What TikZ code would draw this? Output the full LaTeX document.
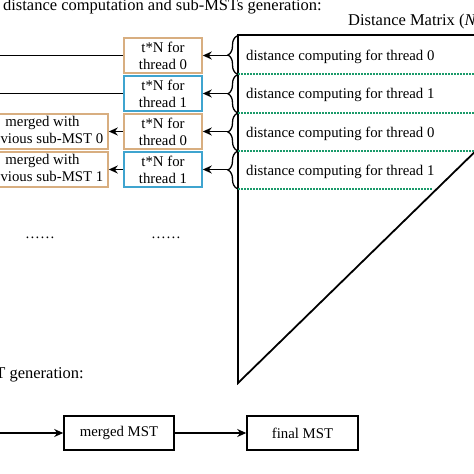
\documentclass[tikz,border=0pt]{standalone}
\usepackage{fontspec}
\setmainfont{Liberation Serif}
\usetikzlibrary{arrows.meta,decorations.pathreplacing}
\definecolor{boxor}{HTML}{D8AE80}
\definecolor{boxbl}{HTML}{3FA4CF}
\definecolor{gdot}{HTML}{1A9A6A}
\tikzset{
  body/.style={font=\fontsize{14.8}{17}\selectfont},
  head/.style={font=\fontsize{16.5}{19}\selectfont, inner sep=0pt},
  tbox/.style={draw, line width=1.6pt, minimum width=78pt, minimum height=35pt, inner sep=0pt, align=center, body},
  mbox/.style={tbox, draw=boxor, minimum width=131pt},
  mstbox/.style={tbox, draw=black, minimum width=110pt, minimum height=34pt},
  arr/.style={-{Stealth[length=9pt,width=8pt]}, line width=1.7pt},
  plain/.style={line width=1.7pt},
  gline/.style={draw=gdot, line width=1.5pt, dash pattern=on 1.6pt off 1.4pt},
  bracestyle/.style={decorate, decoration={brace, amplitude=9pt}, line width=1.3pt},
  rowtext/.style={body, anchor=base west, inner sep=0pt}
}
\begin{document}
\begin{tikzpicture}[x=1pt,y=-1pt]
\useasboundingbox (0,0) rectangle (474,474);
\clip (0,0) rectangle (474,474);

% headers
\node[head, anchor=base east] (h1) at (322,10) {distance computation and sub-MSTs generation:};
\node[head, anchor=base west] (h2) at (348,25) {Distance Matrix (\textit{N}};
\node[head, anchor=base east] (h3) at (84,378) {T generation:};

% distance matrix triangle
\coordinate (tr) at (480,35);
\coordinate (tl) at (238,35);
\coordinate (bl) at (238,383);
\coordinate (hr) at (480,146.8);
\draw[line width=1.8pt] (tr) -- (tl) -- (bl) -- (hr);

% green dotted separators
\coordinate (g0a) at (238,74);  \coordinate (g0b) at (480,74);
\coordinate (g1a) at (238,113); \coordinate (g1b) at (480,113);
\coordinate (g2a) at (238,151); \coordinate (g2b) at (480,151);
\coordinate (g3a) at (238,189); \coordinate (g3b) at (432,189);
\draw[gline] (g0a) -- (g0b);
\draw[gline] (g1a) -- (g1b);
\draw[gline] (g2a) -- (g2b);
\draw[gline] (g3a) -- (g3b);

% row texts
\node[rowtext] (r0) at (246,60) {distance computing for thread 0};
\node[rowtext] (r1) at (246,98.5) {distance computing for thread 1};
\node[rowtext] (r2) at (246,137) {distance computing for thread 0};
\node[rowtext] (r3) at (246,175) {distance computing for thread 1};

% braces
\coordinate (bA0) at (237,74);  \coordinate (bB0) at (237,36);
\coordinate (bA1) at (237,112.5); \coordinate (bB1) at (237,75);
\coordinate (bA2) at (237,150.5); \coordinate (bB2) at (237,113.5);
\coordinate (bA3) at (237,188.5); \coordinate (bB3) at (237,151.5);
\draw[bracestyle] (bA0) -- (bB0);
\draw[bracestyle] (bA1) -- (bB1);
\draw[bracestyle] (bA2) -- (bB2);
\draw[bracestyle] (bA3) -- (bB3);
\coordinate (k0) at (228,55.5);
\coordinate (k1) at (228,93.5);
\coordinate (k2) at (228,131.5);
\coordinate (k3) at (228,169.5);

% t*N boxes
\node[tbox, draw=boxor] (t0) at (163,55.5) {t*N for\\thread 0};
\node[tbox, draw=boxbl] (t1) at (163,93.5) {t*N for\\thread 1};
\node[tbox, draw=boxor] (t2) at (163,131.5) {t*N for\\thread 0};
\node[tbox, draw=boxbl] (t3) at (163,169.5) {t*N for\\thread 1};

\draw[arr] (k0) -- (t0.east);
\draw[arr] (k1) -- (t1.east);
\draw[arr] (k2) -- (t2.east);
\draw[arr] (k3) -- (t3.east);

% merged boxes
\node[mbox] (m0) at (42.5,131.5) {merged with\\previous sub-MST 0};
\node[mbox] (m1) at (42.5,169.5) {merged with\\previous sub-MST 1};
\draw[arr] (t2.west) -- (m0.east);
\draw[arr] (t3.west) -- (m1.east);

% lines leaving to the left
\coordinate (l0) at (-5,55.5);
\coordinate (l1) at (-5,93.5);
\draw[plain] (t0.west) -- (l0);
\draw[plain] (t1.west) -- (l1);

% dots
\node[body, anchor=base, inner sep=0pt] (d0) at (40,238) {……};
\node[body, anchor=base, inner sep=0pt] (d1) at (166,238) {……};

% bottom MST generation
\node[mstbox] (mm) at (119,433) {merged MST};
\node[mstbox, minimum width=111pt] (fm) at (302.5,433) {final MST};
\coordinate (lin) at (-5,433);
\draw[arr] (lin) -- (mm.west);
\draw[arr] (mm.east) -- (fm.west);
\end{tikzpicture}
\end{document}
